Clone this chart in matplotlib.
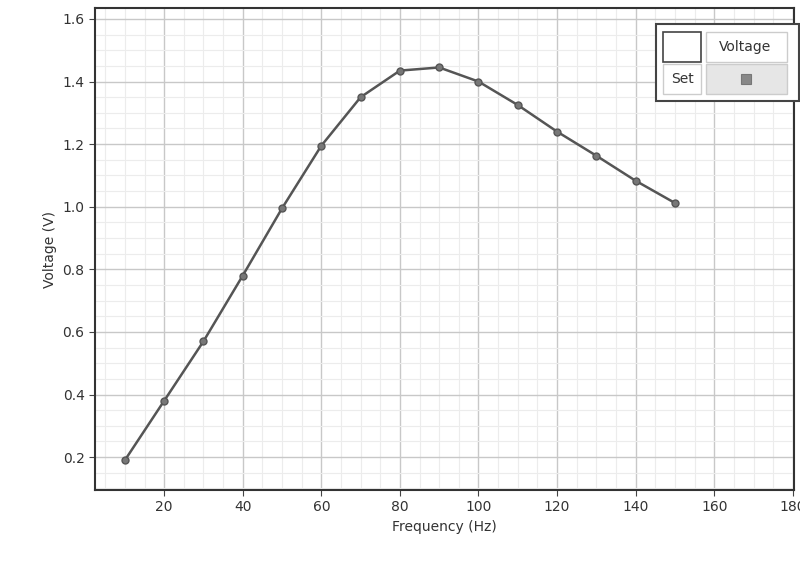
import matplotlib.pyplot as plt
from matplotlib.patches import Rectangle
from matplotlib.ticker import MultipleLocator

freq = [10, 20, 30, 40, 50, 60, 70, 80, 90, 100, 110, 120, 130, 140, 150]
voltage = [0.19, 0.38, 0.57, 0.78, 0.995, 1.195, 1.35, 1.435, 1.445, 1.40, 1.325, 1.24, 1.163, 1.083, 1.012]

fig = plt.figure(figsize=(8.0, 5.79), dpi=100)
ax = fig.add_axes([95 / 800, 1 - 490 / 579, 699 / 800, 482 / 579])
ax.plot(freq, voltage, color='#555555', lw=1.8, marker='o', ms=5, mfc='#777777', mec='#555555', zorder=3)
ax.set_xlim(2.4, 180.3)
ax.set_ylim(0.095, 1.635)
ax.xaxis.set_major_locator(MultipleLocator(20))
ax.xaxis.set_minor_locator(MultipleLocator(5))
ax.yaxis.set_major_locator(MultipleLocator(0.2))
ax.yaxis.set_minor_locator(MultipleLocator(0.05))
ax.grid(which='major', color='#c8c8c8', lw=1)
ax.grid(which='minor', color='#ececec', lw=0.8)
ax.set_axisbelow(True)
ax.tick_params(which='minor', length=0)
ax.tick_params(which='major', length=4, color='#444444', labelsize=10, labelcolor='#333333')
ax.yaxis.set_major_formatter(plt.FuncFormatter(lambda v, p: f'{v:.1f}'))
for s in ax.spines.values():
    s.set_color('#333333')
    s.set_linewidth(1.5)
ax.set_xlabel('Frequency (Hz)', fontsize=10, color='#333333')
ax.set_ylabel('Voltage (V)', fontsize=10, color='#333333')


def px(x, y, w, h, **kw):
    fig.patches.append(Rectangle((x / 800, 1 - (y + h) / 579), w / 800, h / 579,
                                 transform=fig.transFigure, **kw))


px(656, 24, 143, 77, fc='white', ec='#444444', lw=1.5)
px(663, 32, 38, 30, fc='white', ec='#444444', lw=1.2)
px(706, 32, 81, 30, fc='white', ec='#cccccc', lw=1)
px(663, 64, 38, 30, fc='white', ec='#cccccc', lw=1)
px(706, 64, 81, 30, fc='#e6e6e6', ec='#cccccc', lw=1)
px(741, 74, 10, 10, fc='#888888', ec='#777777', lw=0.8)
fig.text(745 / 800, 1 - 47 / 579, 'Voltage', ha='center', va='center', fontsize=10, color='#333333')
fig.text(682 / 800, 1 - 79 / 579, 'Set', ha='center', va='center', fontsize=10, color='#333333')

fig.savefig('out.png')
